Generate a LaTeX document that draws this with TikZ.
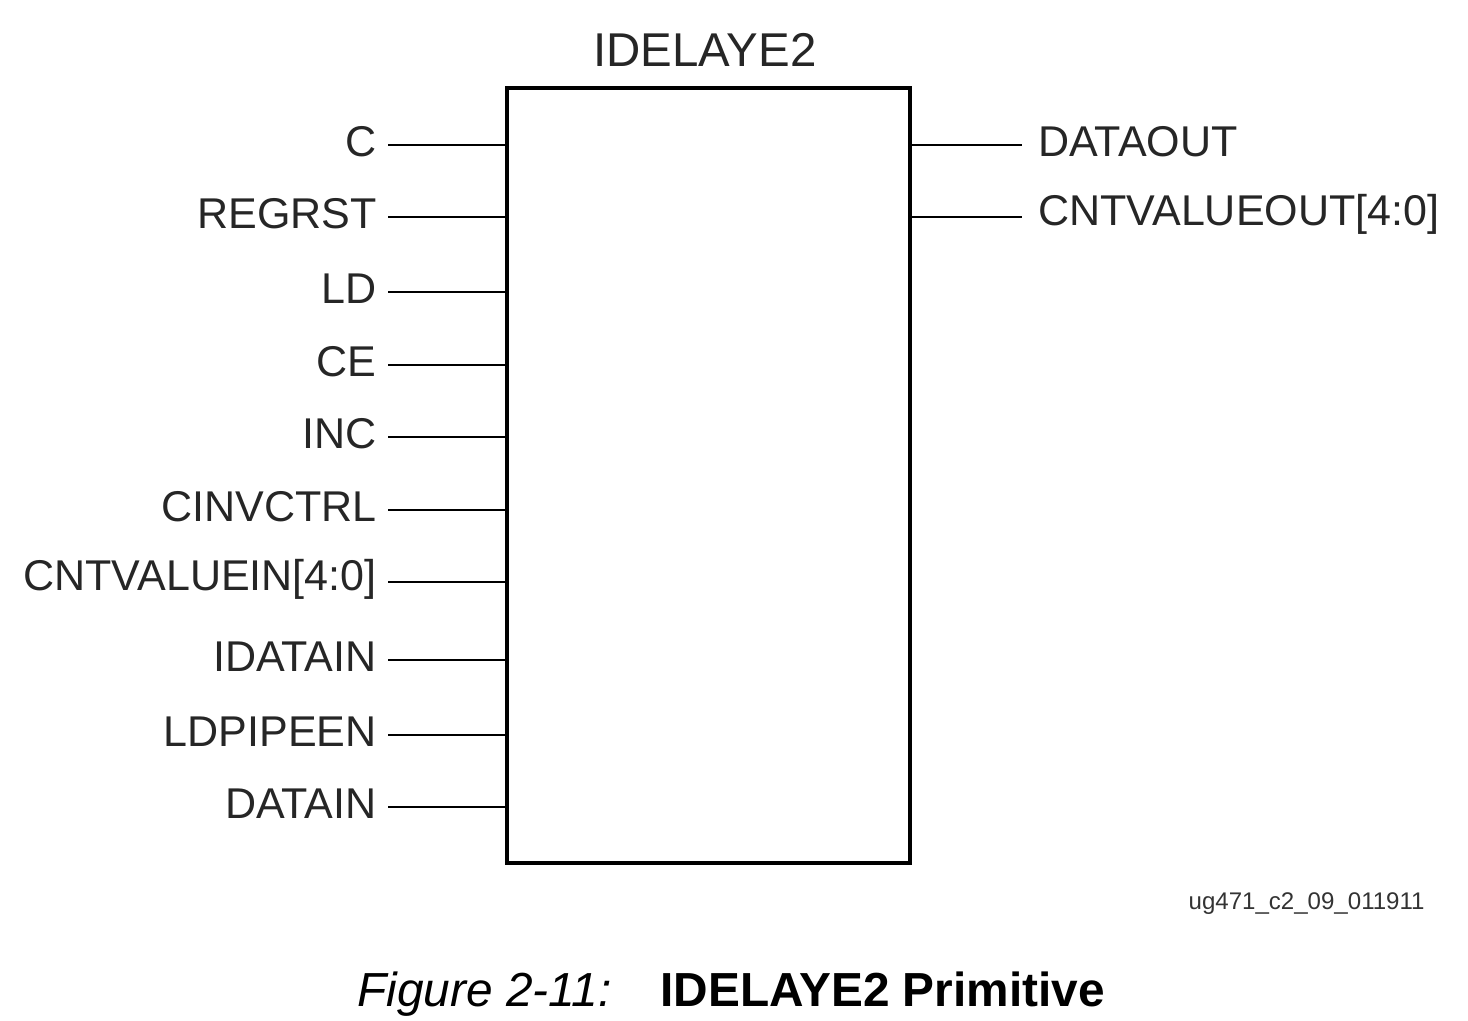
\documentclass[tikz,border=0pt]{standalone}
\usepackage{fontspec}
\setmainfont{Liberation Sans}
\begin{document}
\begin{tikzpicture}[x=0.02cm,y=-0.02cm,
  pin/.style={line width=1.1pt},
  lab/.style={font=\fontsize{24.5}{28}\selectfont, inner sep=0pt, text=black!85}]
\useasboundingbox (0,0) rectangle (1468,1021);
\node[draw, line width=2pt, minimum width=403*0.02cm, minimum height=775*0.02cm, anchor=north west, inner sep=0pt] (box) at (505,86) {};
\node[font=\fontsize{27}{30}\selectfont, inner sep=0pt, text=black!85] (title) at (705,50) {IDELAYE2};
\foreach \t/\y [count=\i] in {C/145,REGRST/217,LD/292,CE/365,INC/437,CINVCTRL/510,CNTVALUEIN[4:0]/582,IDATAIN/660,LDPIPEEN/735,DATAIN/807}{
  \coordinate (l\i) at (388,\y);
  \coordinate (b\i) at (505,\y);
  \draw[pin] (l\i) -- (b\i);
  \node[lab, anchor=east] (t\i) at (377,\y-3) {\t};
}
\foreach \t/\y [count=\i] in {DATAOUT/145,CNTVALUEOUT[4:0]/217}{
  \coordinate (r\i) at (1022,\y);
  \coordinate (c\i) at (908,\y);
  \draw[pin] (c\i) -- (r\i);
  \node[lab, anchor=west] (o\i) at (1038,\y-3) {\t};
}
\node[font=\fontsize{13.7}{15}\selectfont, anchor=east, inner sep=0pt, text=black!80] (ug) at (1425,904) {ug471\_c2\_09\_011911};
\node[font=\fontsize{27.2}{30}\selectfont\itshape, anchor=base east, inner sep=0pt] (fig) at (612,1006) {Figure 2-11:};
\node[font=\fontsize{27.2}{30}\selectfont\bfseries, anchor=base west, inner sep=0pt] (cap) at (660,1006) {IDELAYE2 Primitive};
\end{tikzpicture}
\end{document}
